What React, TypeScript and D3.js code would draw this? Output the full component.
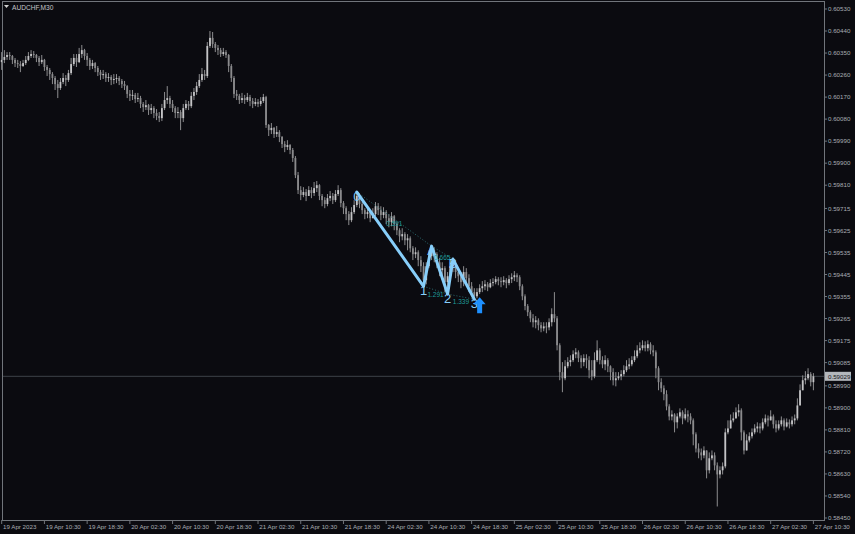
import React from "react";
import * as d3 from "d3";

const W = 855;
const H = 534;
const BASE = 0.58;
const POINT = 0.00001;

const symbolTitle = "AUDCHF,M30";
const FIRST_OPEN = 2313;
const LAST_PRICE = 0.59029;

// [high, low, close] in points above 0.58000
const apr19: [number, number, number][] = [
  [2354,2281,2322],[2362,2309,2334],[2354,2322,2342],[2354,2322,2338],[2342,2305,2322],
  [2330,2293,2309],[2322,2289,2305],[2317,2272,2297],[2322,2293,2309],[2338,2301,2322],
  [2354,2317,2338],[2362,2330,2346],[2358,2330,2342],[2346,2313,2330],[2338,2297,2313],
  [2342,2305,2322],[2326,2277,2293],[2301,2256,2281],[2289,2240,2264],[2272,2223,2248],
  [2256,2199,2223],[2240,2166,2207],[2248,2199,2232],[2268,2223,2248],[2260,2215,2240],
  [2281,2232,2268],[2330,2260,2305],[2346,2297,2330],[2346,2293,2313],[2371,2309,2346],
  [2383,2330,2362],[2367,2322,2338],[2350,2297,2322],[2330,2281,2297],[2322,2285,2309],
  [2313,2272,2289],[2297,2256,2272],[2281,2240,2260],[2281,2244,2264],[2272,2232,2248],
  [2268,2232,2252],[2260,2219,2240],[2264,2223,2244],
];
const apr20: [number, number, number][] = [
  [2264,2227,2248],[2256,2219,2236],[2244,2207,2223],[2236,2199,2215],[2219,2166,2183],
  [2199,2154,2175],[2199,2158,2179],[2187,2146,2162],[2187,2150,2166],[2175,2125,2142],
  [2150,2109,2129],[2158,2117,2137],[2142,2097,2117],[2142,2101,2125],[2133,2084,2105],
  [2121,2076,2093],[2109,2068,2084],[2142,2072,2125],[2191,2117,2158],[2215,2142,2166],
  [2175,2125,2142],[2158,2109,2125],[2133,2084,2105],[2129,2084,2109],[2117,2035,2084],
  [2142,2068,2125],[2158,2117,2142],[2154,2117,2133],[2191,2125,2175],[2207,2158,2191],
  [2232,2179,2215],[2264,2207,2240],[2289,2232,2264],[2281,2240,2256],[2395,2248,2379],
  [2440,2371,2412],[2436,2371,2387],[2395,2354,2371],[2383,2342,2362],[2371,2334,2346],
  [2371,2338,2354],[2362,2330,2342],[2346,2272,2297],[2305,2232,2248],[2256,2166,2183],
  [2199,2158,2175],[2183,2142,2158],[2187,2146,2166],
];
const apr21: [number, number, number][] = [
  [2179,2142,2158],[2187,2150,2170],[2179,2133,2154],[2166,2125,2142],[2166,2133,2150],
  [2162,2129,2142],[2170,2133,2154],[2183,2146,2170],[2175,2044,2056],[2060,2011,2035],
  [2064,2019,2044],[2048,2003,2019],[2052,2007,2027],[2035,1986,2007],[2011,1962,1978],
  [1990,1945,1966],[1994,1954,1974],[1978,1937,1954],[1962,1905,1921],[1929,1839,1851],
  [1864,1774,1790],[1806,1749,1770],[1802,1761,1782],[1794,1745,1766],[1806,1766,1790],
  [1802,1757,1778],[1823,1766,1798],[1827,1782,1810],[1814,1749,1766],[1774,1724,1749],
  [1761,1716,1733],[1774,1724,1757],[1786,1745,1766],[1778,1733,1749],[1790,1741,1774],
  [1810,1766,1790],[1798,1720,1737],[1745,1692,1716],[1724,1667,1692],[1704,1647,1667],
  [1720,1659,1700],[1749,1692,1729],[1782,1720,1766],[1774,1716,1733],[1741,1692,1708],
  [1716,1671,1692],[1720,1675,1700],[1708,1659,1675],
];
const apr24: [number, number, number][] = [
  [1716,1675,1692],[1741,1683,1724],[1737,1688,1708],[1724,1667,1688],[1720,1675,1700],
  [1708,1651,1675],[1692,1638,1659],[1700,1642,1683],[1688,1626,1651],[1659,1606,1626],
  [1634,1577,1601],[1634,1585,1610],[1618,1565,1585],[1610,1544,1593],[1601,1536,1552],
  [1561,1504,1528],[1556,1512,1536],[1544,1479,1504],[1520,1455,1479],[1495,1397,1422],
  [1495,1405,1479],[1544,1471,1520],[1561,1504,1544],[1556,1495,1528],[1536,1471,1495],
  [1512,1438,1463],[1495,1422,1471],[1479,1373,1414],[1455,1365,1438],[1495,1422,1479],
  [1508,1455,1487],[1495,1430,1455],[1471,1414,1438],[1455,1389,1414],[1479,1397,1455],
  [1471,1405,1430],[1446,1373,1397],[1414,1356,1373],[1389,1344,1356],[1389,1348,1373],
  [1405,1365,1389],[1418,1373,1397],[1422,1381,1405],[1414,1377,1393],[1426,1389,1410],
  [1430,1397,1414],[1438,1405,1426],[1434,1401,1418],
];
const apr25: [number, number, number][] = [
  [1434,1393,1414],[1438,1401,1422],[1430,1389,1410],[1442,1401,1426],[1450,1410,1434],
  [1459,1418,1442],[1450,1414,1434],[1442,1381,1397],[1405,1340,1356],[1364,1299,1316],
  [1324,1275,1291],[1299,1250,1266],[1283,1229,1250],[1275,1225,1258],[1266,1217,1238],
  [1250,1209,1225],[1250,1213,1233],[1250,1205,1229],[1266,1217,1250],[1307,1233,1283],
  [1373,1250,1266],[1275,1135,1156],[1164,1013,1046],[1087,964,1021],[1095,1013,1070],
  [1107,1062,1087],[1115,1070,1095],[1135,1087,1119],[1144,1103,1127],[1135,1087,1103],
  [1115,1062,1087],[1119,1070,1103],[1119,1062,1095],[1111,1021,1054],[1095,1013,1029],
  [1127,1021,1095],[1176,1087,1135],[1144,1078,1095],[1111,1062,1078],[1115,1054,1095],
  [1103,1046,1070],[1074,1013,1046],[1062,992,1013],[1046,988,1021],[1046,1013,1029],
  [1054,1013,1038],[1074,1029,1054],[1095,1046,1070],
];
const apr26: [number, number, number][] = [
  [1103,1058,1078],[1111,1070,1095],[1135,1087,1111],[1156,1103,1135],[1168,1123,1144],
  [1176,1135,1156],[1172,1131,1144],[1176,1131,1160],[1168,1119,1135],[1156,1111,1127],
  [1135,1021,1062],[1070,972,1005],[1021,964,980],[992,931,956],[972,890,906],
  [915,849,865],[890,849,873],[878,800,841],[878,816,865],[898,857,882],
  [890,833,857],[898,849,874],[890,841,865],[878,833,849],[857,747,792],
  [800,718,734],[755,694,718],[734,686,706],[743,694,726],[726,612,645],
  [718,632,694],[726,686,706],[718,645,665],[677,497,628],[661,612,645],
  [677,628,661],[816,653,800],[849,792,816],[873,824,849],[882,841,857],
  [902,857,882],[915,865,890],[898,767,800],[808,710,726],[792,743,767],
  [800,759,784],[816,775,800],[833,792,816],
];
const apr27: [number, number, number][] = [
  [841,800,824],[837,796,816],[857,808,841],[873,833,857],[869,824,849],
  [890,849,865],[873,816,833],[849,800,816],[849,808,833],[865,824,849],
  [857,808,824],[857,820,841],[853,816,833],[865,824,849],[873,833,857],
  [939,849,910],[996,915,972],[1033,972,1013],[1050,996,1021],[1062,1013,1038],
  [1046,988,1005],[1042,972,1029],
];

const priceTicks = [
  "0.60530","0.60440","0.60350","0.60260","0.60170","0.60080","0.59990","0.59900",
  "0.59810","0.59715","0.59625","0.59535","0.59445","0.59355","0.59265","0.59175",
  "0.59085","0.58990","0.58900","0.58810","0.58720","0.58630","0.58540","0.58450",
];
const dateLabels = [
  "19 Apr 2023","19 Apr 10:30","19 Apr 18:30","20 Apr 02:30","20 Apr 10:30",
  "20 Apr 18:30","21 Apr 02:30","21 Apr 10:30","21 Apr 18:30","24 Apr 02:30",
  "24 Apr 10:30","24 Apr 18:30","25 Apr 02:30","25 Apr 10:30","25 Apr 18:30",
  "26 Apr 02:30","26 Apr 10:30","26 Apr 18:30","27 Apr 02:30","27 Apr 10:30",
];
const DATE_STEP = 16;

// pattern pivots: bar index, which extreme, label
const pivotBars = [133, 158, 161, 167, 169, 177];
const pivotKinds = ["h", "l", "h", "l", "h", "l"];
const pivotLabels = ["0", "1", "A", "2", "B", "3"];
const ratioPairs = [[0, 2], [2, 4], [1, 3], [3, 5]];
const ratioTexts = ["0.591", "0.665", "1.291", "1.339"];
const arrowBar = 179;

type Bar = { i: number; o: number; h: number; l: number; c: number };

const raw = [...apr19, ...apr20, ...apr21, ...apr24, ...apr25, ...apr26, ...apr27];
const bars: Bar[] = raw.map(([h, l, c], i) => {
  const o = i === 0 ? FIRST_OPEN : raw[i - 1][2];
  const p = (v: number) => BASE + v * POINT;
  return { i, o: p(o), h: p(Math.max(h, o, c)), l: p(Math.min(l, o, c)), c: p(c) };
});

const PLOT_L = 2;
const PLOT_T = 1;
const PLOT_R = 824;
const PLOT_B = 520;

export default function App() {
  const x = d3.scaleLinear().domain([0, 304]).range([1.7, 813.4]);
  const y = d3.scaleLinear().domain([0.5845, 0.6053]).range([518, 9]);

  const pivots = pivotBars.map((b, k) => {
    const bar = bars[b];
    const price = pivotKinds[k] === "h" ? bar.h : bar.l;
    return { x: x(b), y: y(price), label: pivotLabels[k] };
  });
  const line = d3.line<{ x: number; y: number }>().x((d) => d.x).y((d) => d.y);

  const font = "'Liberation Sans', Arial, sans-serif";
  const axisColor = "#71757b";
  const textColor = "#a9adb3";

  const arrowX = x(arrowBar);
  const arrowY = pivots[5].y - 2;

  return (
    <svg
      width={W}
      height={H}
      style={{ position: "absolute", left: 0, top: 0, display: "block", background: "#0b0b10" }}
    >
      <rect x={0} y={0} width={W} height={H} fill="#0b0b10" />
      {/* current price line */}
      <line
        x1={PLOT_L}
        x2={PLOT_R}
        y1={y(LAST_PRICE)}
        y2={y(LAST_PRICE)}
        stroke="#3e4349"
        strokeWidth={1}
      />
      {/* candles */}
      <g>
        {bars.map((b) => {
          const cx = x(b.i);
          const up = b.c >= b.o;
          const top = y(Math.max(b.o, b.c));
          const bot = y(Math.min(b.o, b.c));
          return (
            <g key={b.i}>
              <line x1={cx} x2={cx} y1={y(b.h)} y2={y(b.l)} stroke="#8d8d8f" strokeWidth={1} />
              <rect
                x={cx - 0.9}
                y={top}
                width={1.8}
                height={Math.max(1, bot - top)}
                fill={up ? "#c4c4c6" : "#8a8a8c"}
              />
            </g>
          );
        })}
      </g>
      {/* pattern dotted ratio lines */}
      {ratioPairs.map(([a, b], k) => (
        <line
          key={"rl" + k}
          x1={pivots[a].x}
          y1={pivots[a].y}
          x2={pivots[b].x}
          y2={pivots[b].y}
          stroke="#2c6c70"
          strokeWidth={1}
          strokeDasharray="1,2"
        />
      ))}
      {/* pattern zigzag */}
      <path
        d={line(pivots) || ""}
        fill="none"
        stroke="#87cefa"
        strokeWidth={3}
        strokeLinejoin="round"
        strokeLinecap="round"
      />
      {ratioPairs.map(([a, b], k) => (
        <text
          key={"rt" + k}
          x={(pivots[a].x + pivots[b].x) / 2}
          y={(pivots[a].y + pivots[b].y) / 2 + 7}
          fontSize={6.5}
          fontFamily={font}
          fill="#1f9b9b"
          textAnchor="middle"
        >
          {ratioTexts[k]}
        </text>
      ))}
      {pivots.map((p, k) => (
        <text
          key={"pl" + k}
          x={p.x}
          y={p.y + 8.5}
          fontSize={13}
          fontFamily={font}
          fill="#87cefa"
          textAnchor="middle"
        >
          {p.label}
        </text>
      ))}
      <path
        transform={`translate(${arrowX},${arrowY})`}
        d="M0,0 L6,7 L2.5,7 L2.5,16 L-2.5,16 L-2.5,7 L-6,7 Z"
        fill="#1e90ff"
      />
      {/* frame */}
      <rect
        x={PLOT_L}
        y={PLOT_T}
        width={PLOT_R - PLOT_L}
        height={PLOT_B - PLOT_T}
        fill="none"
        stroke={axisColor}
        strokeWidth={1}
        shapeRendering="crispEdges"
      />
      {/* price axis */}
      {priceTicks.map((t) => {
        const yy = y(+t);
        return (
          <g key={t}>
            <line x1={PLOT_R} x2={PLOT_R + 3} y1={yy} y2={yy} stroke={axisColor} />
            <text
              x={PLOT_R + 4}
              y={yy + 2.2}
              fontSize={6.2}
              fontFamily={font}
              fill={textColor}
            >
              {t}
            </text>
          </g>
        );
      })}
      {/* last price box */}
      <rect
        x={PLOT_R + 1}
        y={y(LAST_PRICE) - 4.5}
        width={26}
        height={9}
        fill="#b3b7bc"
      />
      <text
        x={PLOT_R + 4}
        y={y(LAST_PRICE) + 2.2}
        fontSize={6.2}
        fontFamily={font}
        fill="#15161a"
      >
        {LAST_PRICE.toFixed(5)}
      </text>
      {/* time axis */}
      {dateLabels.map((d, k) => {
        const xx = x(k * DATE_STEP);
        return (
          <g key={d}>
            <line x1={xx} x2={xx} y1={PLOT_B} y2={PLOT_B + 4} stroke={axisColor} />
            <text x={xx + 1.3} y={529} fontSize={6.2} fontFamily={font} fill={textColor}>
              {d}
            </text>
          </g>
        );
      })}
      {/* title */}
      <path d="M4,5 L9,5 L6.5,8 Z" fill="#d0d0d0" />
      <text x={12} y={9.5} fontSize={6.6} fontFamily={font} fill="#c4c6ca">
        {symbolTitle}
      </text>
    </svg>
  );
}
